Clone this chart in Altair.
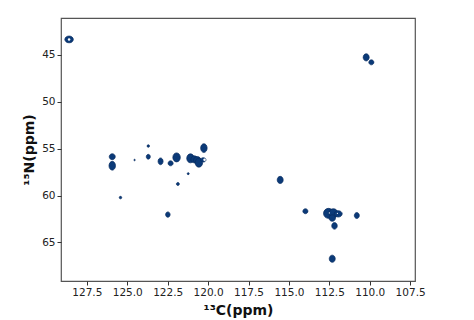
import altair as alt
import pandas as pd

# Peak list: 13C shift, 15N shift, apparent width/height (px)
c13 = [128.6, 110.22, 109.9, 125.93, 125.93, 124.55, 123.7, 123.7, 122.94, 122.32,
       121.95, 121.23, 121.87, 121.09, 120.85, 120.67, 120.57, 120.3, 120.26, 125.42,
       122.49, 115.54, 113.98, 112.55, 112.25, 111.95, 112.32, 112.18, 110.8, 112.32]
n15 = [43.38, 45.29, 45.82, 55.87, 56.83, 56.22, 54.73, 55.87, 56.36, 56.57,
       55.94, 57.67, 58.77, 56.04, 56.15, 56.25, 56.5, 56.2, 54.95, 60.22,
       62.03, 58.34, 61.67, 61.9, 61.88, 61.95, 62.4, 63.23, 62.13, 66.73]
pw = [8.5, 6.0, 5.0, 6.0, 6.5, 1.5, 2.5, 4.0, 5.0, 5.0,
      7.5, 2.0, 3.0, 7.5, 7.0, 7.5, 7.5, 5.5, 6.5, 2.5,
      4.5, 6.0, 5.0, 10.0, 9.0, 8.0, 6.5, 5.5, 5.0, 6.0]
ph = [7.0, 7.0, 5.5, 6.5, 8.5, 1.5, 2.5, 5.0, 6.5, 5.5,
      9.5, 2.0, 3.0, 8.5, 7.5, 7.5, 8.5, 4.5, 8.5, 2.5,
      5.5, 7.0, 5.5, 10.0, 9.0, 6.5, 6.5, 6.5, 6.0, 7.0]

# inner (white) contour holes
hole_c13 = [128.6, 112.5, 112.0, 120.22]
hole_n15 = [43.38, 61.85, 61.9, 56.2]
hole_w = [2.5, 1.2, 1.2, 2.5]

x_ticks = [127.5, 125.0, 122.5, 120.0, 117.5, 115.0, 112.5, 110.0, 107.5]
y_ticks = [45, 50, 55, 60, 65]

df = pd.DataFrame({"c13": c13, "n15": n15, "w": pw, "h": ph})
df["size"] = df["w"] ** 2
r = df["h"] / df["w"]
df["shape"] = pd.cut(r, [0, 0.72, 0.9, 1.1, 1.27, 10],
                     labels=["wider", "wide", "round", "tall", "taller"]).astype(str)

holes = pd.DataFrame({"c13": hole_c13, "n15": hole_n15, "w": hole_w})
holes["size"] = holes["w"] ** 2


def ell(a):
    return f"M0,-{a} A1,{a} 0 1,1 0,{a} A1,{a} 0 1,1 0,-{a} Z"


shape_dom = ["wider", "wide", "round", "tall", "taller"]
shape_rng = [ell(0.65), ell(0.8), ell(1.0), ell(1.2), ell(1.35)]

xs = alt.Scale(domain=[107.2, 129.1], reverse=True, nice=False, zero=False)
ys = alt.Scale(domain=[41.1, 69.1], reverse=True, nice=False, zero=False)

xenc = alt.X("c13:Q", scale=xs,
             axis=alt.Axis(values=x_ticks, format=".1f", title="¹³C(ppm)",
                           grid=False, domain=False, tickSize=4, tickColor="#333",
                           labelColor="#222", labelFontSize=10.5, labelPadding=2,
                           titleFontSize=14, titleFontWeight="bold", titleColor="#111",
                           titlePadding=6, labelFont="DejaVu Sans", titleFont="DejaVu Sans"))
yenc = alt.Y("n15:Q", scale=ys,
             axis=alt.Axis(values=y_ticks, format="d", title="¹⁵N(ppm)",
                           grid=False, domain=False, tickSize=4, tickColor="#333",
                           labelColor="#222", labelFontSize=10.5, labelPadding=2,
                           titleFontSize=14, titleFontWeight="bold", titleColor="#111",
                           titlePadding=5, labelFont="DejaVu Sans", titleFont="DejaVu Sans"))

peaks = alt.Chart(df).mark_point(filled=True, fill="#0b3a78", stroke="#082c60",
                                 strokeWidth=0.7, opacity=1).encode(
    x=xenc, y=yenc,
    size=alt.Size("size:Q", scale=None, legend=None),
    shape=alt.Shape("shape:N", scale=alt.Scale(domain=shape_dom, range=shape_rng), legend=None),
)

hole = alt.Chart(holes).mark_point(filled=True, fill="#ffffff", opacity=1,
                                   shape="circle").encode(
    x="c13:Q", y="n15:Q",
    size=alt.Size("size:Q", scale=None, legend=None),
)

chart = alt.layer(peaks, hole).properties(
    width=354, height=263,
    autosize=alt.AutoSizeParams(type="none"),
    padding={"left": 53, "top": 10, "right": 30, "bottom": 38},
).configure_view(stroke="#555555", strokeWidth=1.2)

chart.save("out.html", embed_options={"renderer": "svg", "actions": False})
